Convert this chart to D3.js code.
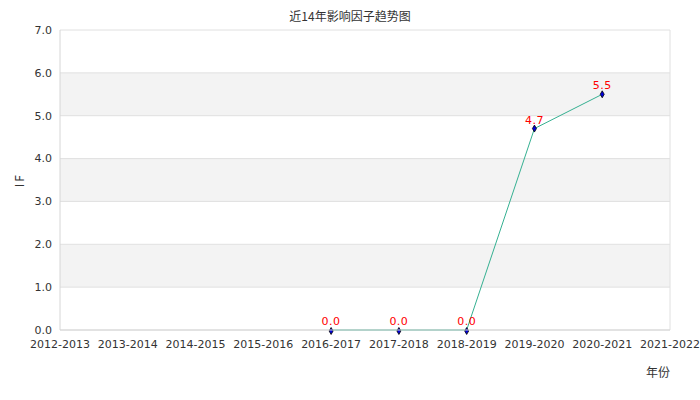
<!DOCTYPE html>
<html>
<head>
<meta charset="utf-8">
<script src="https://cdn.jsdelivr.net/npm/d3@7"></script>
<style>
  body { margin: 0; background: #fff; }
  text { font-family: "DejaVu Sans", "Noto Sans CJK SC", sans-serif; }
</style>
</head>
<body>
<svg id="chart" width="700" height="400"></svg>
<script>
// years shown on the x axis
const years = ["2012-2013", "2013-2014", "2014-2015", "2015-2016", "2016-2017",
  "2017-2018", "2018-2019", "2019-2020", "2020-2021", "2021-2022"];
// impact factor per year (null = no data)
const ifValues = [null, null, null, null, 0.0, 0.0, 0.0, 4.7, 5.5, null];
const yTicks = [0, 1, 2, 3, 4, 5, 6, 7];

const svg = d3.select("#chart");
const width = 700;
const height = 400;
const margin = { top: 30, right: 30, bottom: 70, left: 60 };

const x = d3.scalePoint()
  .domain(years)
  .range([margin.left, width - margin.right]);

const y = d3.scaleLinear()
  .domain([0, 7])
  .range([height - margin.bottom, margin.top]);

// alternating bands
svg.append("g")
  .selectAll("rect")
  .data(yTicks.slice(0, -1))
  .join("rect")
  .attr("x", margin.left)
  .attr("y", (d) => y(d + 1))
  .attr("width", width - margin.right - margin.left)
  .attr("height", (d) => y(d) - y(d + 1))
  .attr("fill", (d) => (d % 2 === 1 ? "#f3f3f3" : "#fff"));

// horizontal grid lines
svg.append("g")
  .selectAll("line")
  .data(yTicks)
  .join("line")
  .attr("x1", margin.left)
  .attr("x2", width - margin.right)
  .attr("y1", (d) => y(d))
  .attr("y2", (d) => y(d))
  .attr("stroke", "#e0e0e0");

// right border
svg.append("line")
  .attr("x1", width - margin.right).attr("x2", width - margin.right)
  .attr("y1", margin.top).attr("y2", height - margin.bottom)
  .attr("stroke", "#e0e0e0");

const pts = years.map((d, i) => ({ year: d, value: ifValues[i] }))
  .filter((d) => d.value !== null);

// line
svg.append("path")
  .datum(pts)
  .attr("fill", "none")
  .attr("stroke", "#35b091")
  .attr("stroke-width", 1)
  .attr("d", d3.line().x((d) => x(d.year)).y((d) => y(d.value)));

// diamond markers
svg.append("g")
  .selectAll("path")
  .data(pts)
  .join("path")
  .attr("transform", (d) => `translate(${x(d.year)},${y(d.value) + (d.value === 0 ? 1 : 0)})`)
  .attr("d", d3.symbol(d3.symbolDiamond, 14))
  .attr("fill", "#0000dd")
  .attr("stroke", "#000")
  .attr("stroke-width", 0.8);

// axes lines (drawn on top)
svg.append("line")
  .attr("x1", margin.left).attr("x2", width - margin.right)
  .attr("y1", y(0)).attr("y2", y(0))
  .attr("stroke", "#d6d6d6").attr("stroke-width", 1.2);
svg.append("line")
  .attr("x1", margin.left).attr("x2", margin.left)
  .attr("y1", margin.top).attr("y2", height - margin.bottom)
  .attr("stroke", "#d6d6d6");

// value labels
svg.append("g")
  .selectAll("text")
  .data(pts)
  .join("text")
  .attr("x", (d) => x(d.year))
  .attr("y", (d) => y(d.value) - 5)
  .attr("text-anchor", "middle")
  .attr("font-size", 11)
  .attr("letter-spacing", 0.5)
  .attr("fill", "#ff0000")
  .text((d) => d.value.toFixed(1));

// y tick labels
svg.append("g")
  .selectAll("text")
  .data(yTicks)
  .join("text")
  .attr("x", margin.left - 8)
  .attr("y", (d) => y(d))
  .attr("dy", "0.35em")
  .attr("text-anchor", "end")
  .attr("font-size", 11)
  .attr("fill", "#333")
  .text((d) => d.toFixed(1));

// x tick labels
svg.append("g")
  .selectAll("text")
  .data(years)
  .join("text")
  .attr("x", (d) => x(d))
  .attr("y", y(0) + 18)
  .attr("text-anchor", "middle")
  .attr("font-size", 11)
  .attr("fill", "#333")
  .text((d) => d);

// titles
svg.append("text")
  .attr("x", 350).attr("y", 21)
  .attr("text-anchor", "middle")
  .attr("font-size", 12)
  .attr("fill", "#333")
  .style("font-family", "'Noto Sans CJK SC', sans-serif")
  .text("近14年影响因子趋势图");

svg.append("text")
  .attr("transform", `translate(24,${(margin.top + height - margin.bottom) / 2}) rotate(-90)`)
  .attr("text-anchor", "middle")
  .attr("font-size", 12)
  .attr("letter-spacing", 2)
  .attr("fill", "#333")
  .text("IF");

svg.append("text")
  .attr("x", width - margin.right).attr("y", 377)
  .attr("text-anchor", "end")
  .attr("font-size", 12)
  .attr("fill", "#333")
  .style("font-family", "'Noto Sans CJK SC', sans-serif")
  .text("年份");
</script>
</body>
</html>
